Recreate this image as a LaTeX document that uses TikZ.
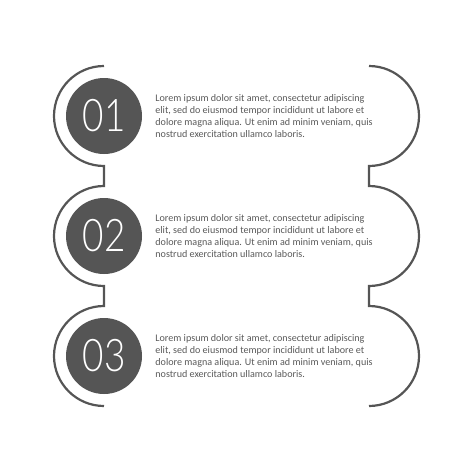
\documentclass[tikz,border=0pt]{standalone}
\usepackage{fontspec}
\setmainfont{Carlito}
\newfontfamily\numfont{Lato}[UprightFont=* Light, FakeStretch=0.82]
\usetikzlibrary{positioning}
\definecolor{darkgrey}{HTML}{555555}
\definecolor{textgrey}{HTML}{5A5A5A}
\newcommand{\loremtext}{Lorem ipsum dolor sit amet, consectetur adipiscing\\
elit, sed do eiusmod tempor incididunt ut labore et\\
dolore magna aliqua. Ut enim ad minim veniam, quis\\
nostrud exercitation ullamco laboris.}
\tikzset{
    x=1pt, y=1pt, % one unit is one pixel of the picture
    numdisc/.style={circle, fill=darkgrey, minimum size=76pt, inner sep=0pt,
        text=white, font=\numfont\fontsize{45}{45}\selectfont}, % the numbered discs
    lorem/.style={align=left, inner sep=0pt, text=textgrey,
        font=\fontsize{10.1}{12}\selectfont}, % the text blocks
    frame/.style={draw=darkgrey, line width=2.2pt}, % the wavy outlines
}
\begin{document}
\begin{tikzpicture}
    \useasboundingbox (0,0) rectangle (474,-474);

    \foreach \i in {1,2,3} {
        \node[numdisc] (num\i) at (104, {-116-120*(\i-1)}) {0\i};
        \node[lorem, right=13pt of num\i] (txt\i) {\loremtext};
        \coordinate (rc\i) at (369, {-116-120*(\i-1)});
    }

    % left outline round the discs
    \draw[frame] ([yshift=50pt]num1.center) arc[start angle=90, end angle=270, radius=50]
        -- ([yshift=50pt]num2.center) arc[start angle=90, end angle=270, radius=50]
        -- ([yshift=50pt]num3.center) arc[start angle=90, end angle=270, radius=50];
    % right outline
    \draw[frame] ([yshift=50pt]rc1) arc[start angle=90, end angle=-90, radius=50]
        -- ([yshift=50pt]rc2) arc[start angle=90, end angle=-90, radius=50]
        -- ([yshift=50pt]rc3) arc[start angle=90, end angle=-90, radius=50];
\end{tikzpicture}
\end{document}
